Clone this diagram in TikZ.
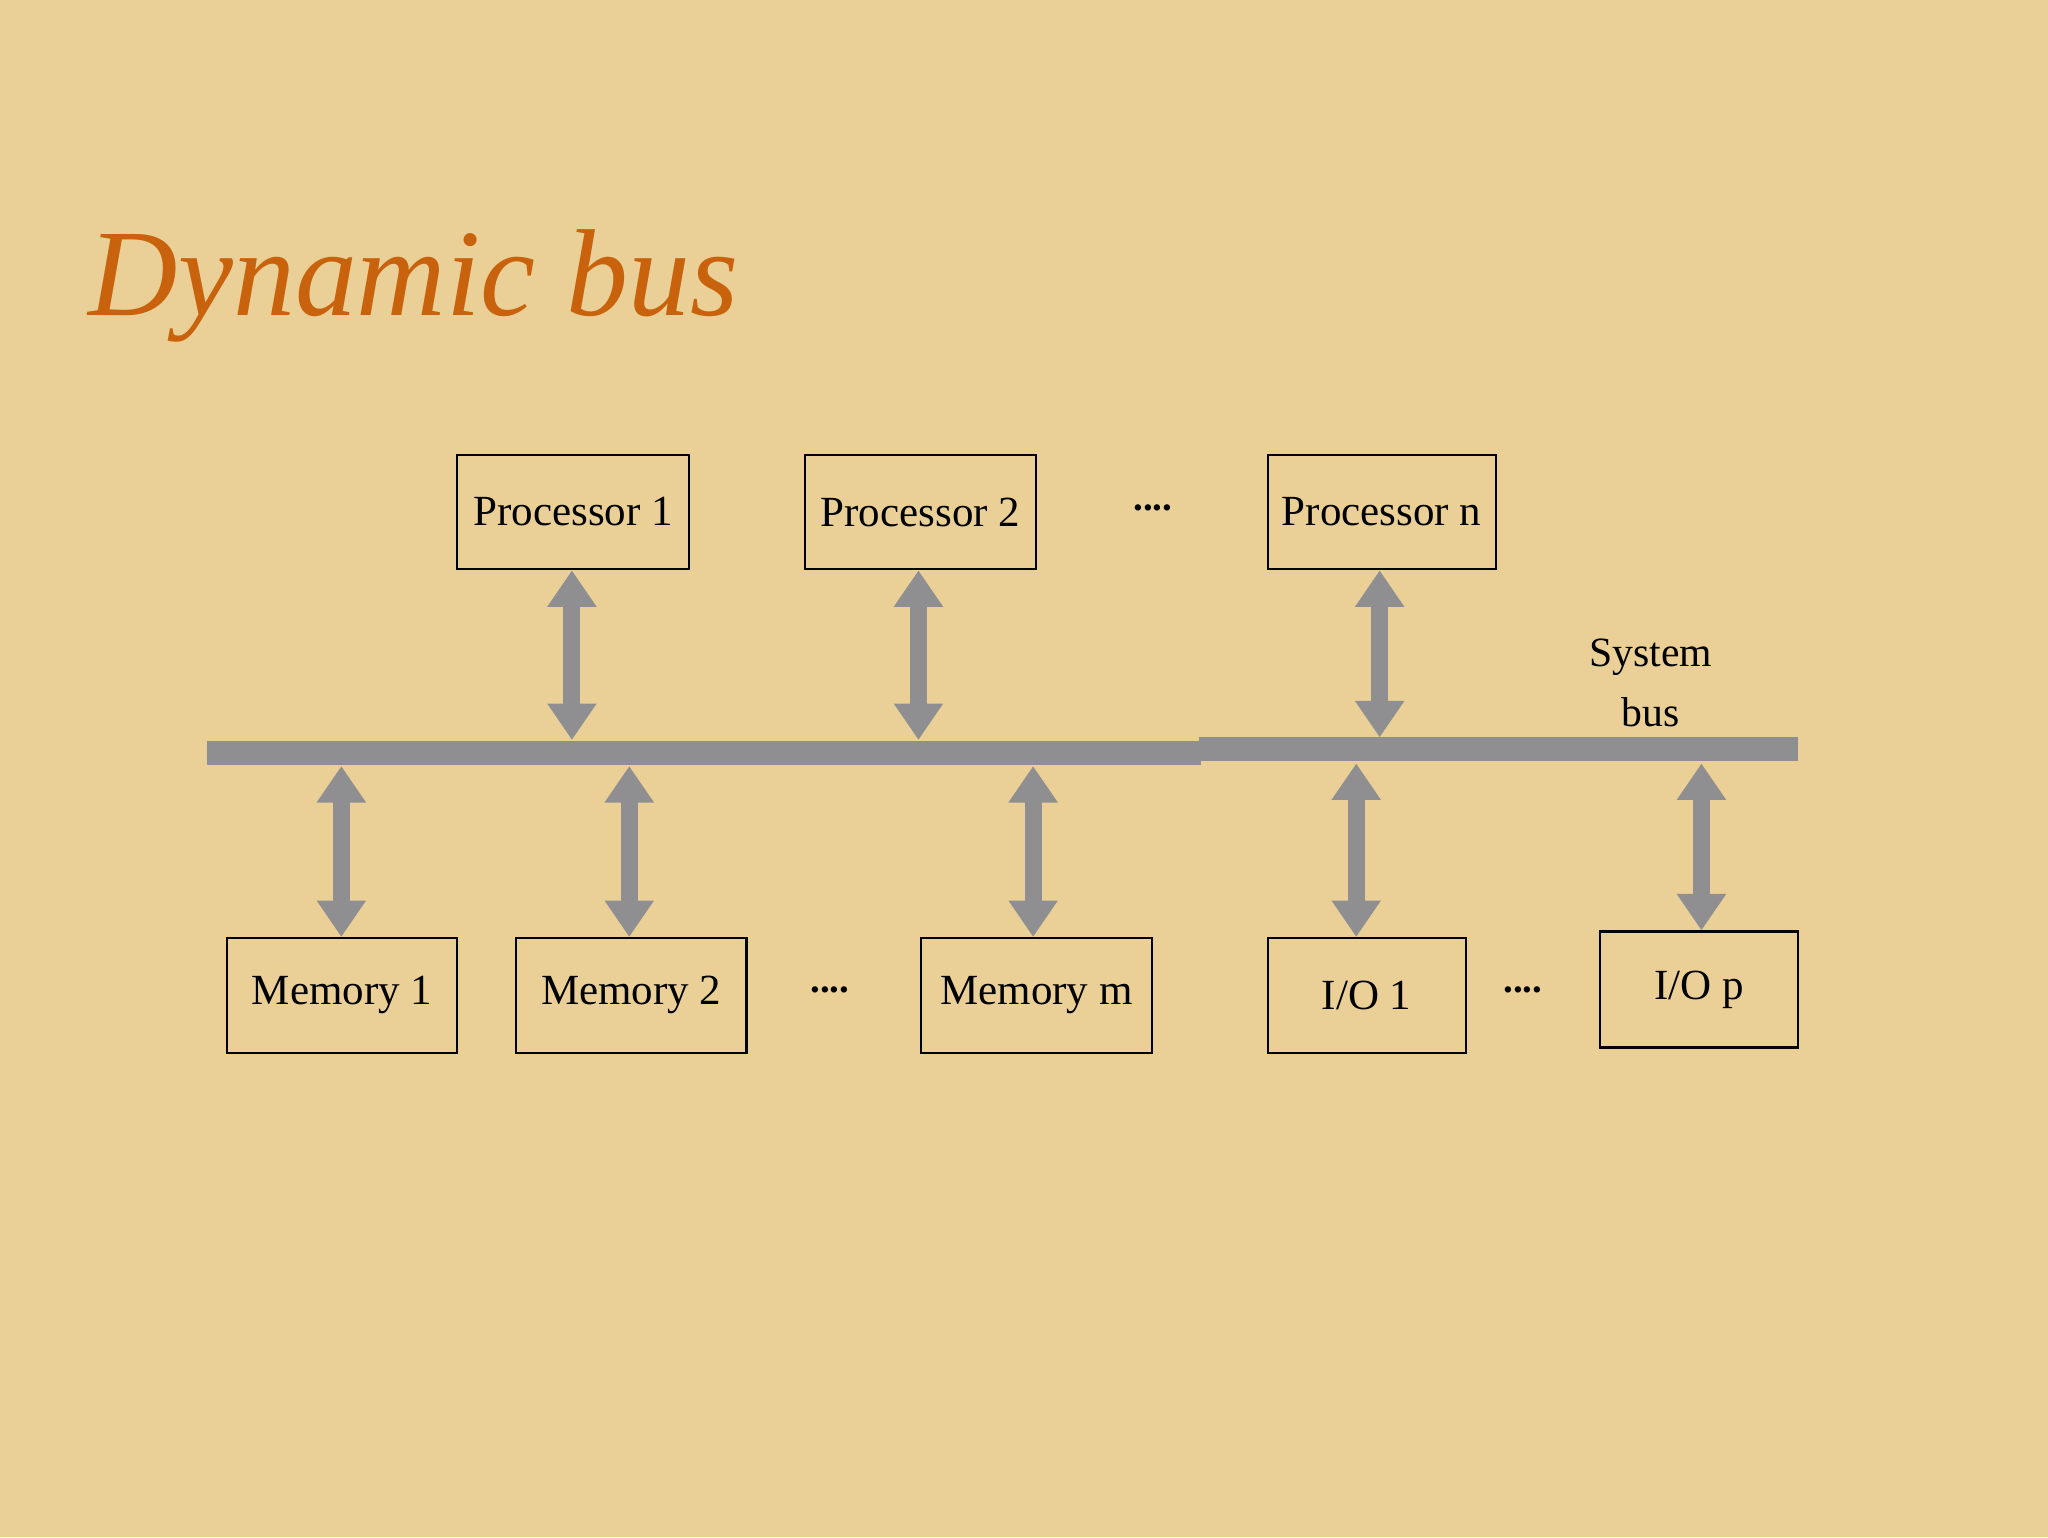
\documentclass[tikz,border=0pt]{standalone}
\usepackage{fontspec}
\setmainfont{Liberation Serif}
\usetikzlibrary{arrows.meta}
\definecolor{bg}{RGB}{234,208,150}
\definecolor{busgray}{RGB}{143,143,146}
\definecolor{titleor}{RGB}{200,98,12}
\begin{document}
\begin{tikzpicture}[x=1pt,y=-1pt,
  box/.style={draw=black,line width=1.6pt,inner sep=0pt,font=\fontsize{33}{36}\selectfont},
  dots/.style={font=\fontsize{30}{34}\selectfont\bfseries},
  link/.style={busgray,line width=13pt,{Triangle[width=36pt,length=28pt]}-{Triangle[width=36pt,length=28pt]}},
  lbl/.style={font=\fontsize{32}{46}\selectfont}]
\fill[bg] (-2,-2) rectangle (1570,1178);
\useasboundingbox (0,0) rectangle (1568,1176);
\node[anchor=base west,text=titleor,font=\fontsize{95}{100}\selectfont\itshape,inner sep=0pt] (title) at (66,240) {Dynamic bus};
% bus
\draw[busgray,line width=18pt] (157,576) -- (920,576);
\draw[busgray,line width=18pt] (918,573) -- (1378,573);
% top boxes
\node[box,minimum width=178pt,minimum height=88pt] (p1) at (438,391) {Processor 1};
\node[box,minimum width=177pt,minimum height=88pt] (p2) at (704.5,391) {Processor 2};
\node[box,minimum width=175pt,minimum height=88pt] (pn) at (1058.5,391) {Processor n};
\node[dots] (d1) at (883,388) {....};
% bottom boxes
\node[box,minimum width=177pt,minimum height=88pt] (m1) at (260.5,762) {Memory 1};
\node[box,minimum width=177pt,minimum height=88pt] (m2) at (482.5,762) {Memory 2};
\node[box,minimum width=177pt,minimum height=88pt] (mm) at (793.5,762) {Memory m};
\node[box,minimum width=152pt,minimum height=88pt] (io1) at (1047,762) {I/O 1};
\node[box,minimum width=152pt,minimum height=89pt] (iop) at (1302,757.5) {I/O p};
\node[dots] (d2) at (635,758) {....};
\node[dots] (d3) at (1167,758) {....};
\node[lbl,align=center] (sb) at (1265,522) {System\\bus};
% bus points
\coordinate (b1) at (437,566);
\coordinate (b2) at (703,566);
\coordinate (bn) at (1057,564);
\coordinate (c1) at (260,586);
\coordinate (c2) at (481,586);
\coordinate (cm) at (791,586);
\coordinate (ci1) at (1039,584);
\coordinate (cip) at (1304,584);
\draw[link] (p1.south -| b1) -- (b1);
\draw[link] (p2.south -| b2) -- (b2);
\draw[link] (pn.south -| bn) -- (bn);
\draw[link] (c1) -- (m1.north -| c1);
\draw[link] (c2) -- (m2.north -| c2);
\draw[link] (cm) -- (mm.north -| cm);
\draw[link] (ci1) -- (io1.north -| ci1);
\draw[link] (cip) -- (iop.north -| cip);
\end{tikzpicture}
\end{document}
